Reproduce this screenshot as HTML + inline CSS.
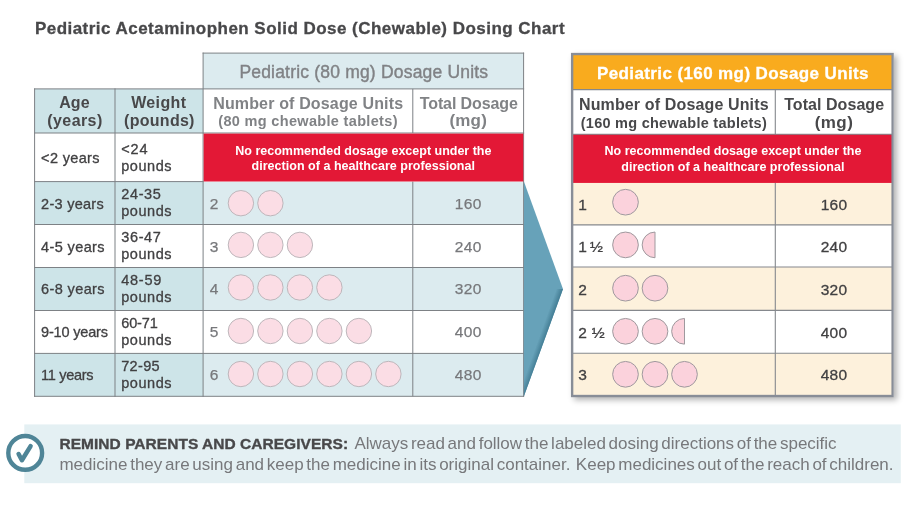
<!DOCTYPE html>
<html>
<head>
<meta charset="utf-8">
<title>Pediatric Acetaminophen Solid Dose (Chewable) Dosing Chart</title>
<style>
html,body{margin:0;padding:0;background:#fff;}
body{width:921px;height:512px;position:relative;overflow:hidden;font-family:"Liberation Sans",sans-serif;color:#4d4d4f;}
.a{position:absolute;}
.t{position:absolute;white-space:nowrap;line-height:1;}
.b{font-weight:bold;}
svg{position:absolute;left:0;top:0;}
</style>
</head>
<body>

<!-- left table, arrow, note box -->
<svg width="921" height="512" viewBox="0 0 921 512">
<rect x="24.3" y="424.4" width="876.5" height="58.8" fill="#e4f0f3"/>
<rect x="203.1" y="53.1" width="320.5" height="35.8" fill="#dcebef"/>
<rect x="34.6" y="88.9" width="168.5" height="44.1" fill="#cde4e8"/>
<rect x="34.6" y="181.6" width="168.5" height="42.9" fill="#cde4e8"/>
<rect x="203.1" y="181.6" width="320.5" height="42.9" fill="#dcebef"/>
<rect x="34.6" y="267.5" width="168.5" height="43.0" fill="#cde4e8"/>
<rect x="203.1" y="267.5" width="320.5" height="43.0" fill="#dcebef"/>
<rect x="34.6" y="353.4" width="168.5" height="42.9" fill="#cde4e8"/>
<rect x="203.1" y="353.4" width="320.5" height="42.9" fill="#dcebef"/>
<line x1="202.6" y1="53.1" x2="524.1" y2="53.1" stroke="#7d8185" stroke-width="1.0"/>
<line x1="34.1" y1="88.9" x2="524.1" y2="88.9" stroke="#7d8185" stroke-width="1.0"/>
<line x1="34.1" y1="133.0" x2="524.1" y2="133.0" stroke="#7d8185" stroke-width="1.0"/>
<line x1="34.1" y1="224.5" x2="524.1" y2="224.5" stroke="#7d8185" stroke-width="1.0"/>
<line x1="34.1" y1="267.5" x2="524.1" y2="267.5" stroke="#7d8185" stroke-width="1.0"/>
<line x1="34.1" y1="310.5" x2="524.1" y2="310.5" stroke="#7d8185" stroke-width="1.0"/>
<line x1="34.1" y1="353.4" x2="524.1" y2="353.4" stroke="#7d8185" stroke-width="1.0"/>
<line x1="34.1" y1="396.3" x2="524.1" y2="396.3" stroke="#7d8185" stroke-width="1.0"/>
<line x1="34.1" y1="181.6" x2="203.6" y2="181.6" stroke="#7d8185" stroke-width="1.0"/>
<line x1="34.6" y1="88.4" x2="34.6" y2="396.8" stroke="#7d8185" stroke-width="1.0"/>
<line x1="115.0" y1="88.4" x2="115.0" y2="396.8" stroke="#7d8185" stroke-width="1.0"/>
<line x1="203.1" y1="52.6" x2="203.1" y2="396.8" stroke="#7d8185" stroke-width="1.0"/>
<line x1="523.6" y1="52.6" x2="523.6" y2="396.8" stroke="#7d8185" stroke-width="1.0"/>
<line x1="412.8" y1="88.9" x2="412.8" y2="133.0" stroke="#7d8185" stroke-width="1.0"/>
<line x1="412.8" y1="181.6" x2="412.8" y2="396.3" stroke="#7d8185" stroke-width="1.0"/>
<rect x="203.65" y="133.6" width="319.65" height="47.9" fill="#e31836"/>
<defs><linearGradient id="ag" gradientUnits="userSpaceOnUse" x1="537.9" y1="340.6" x2="543.5" y2="342.6"><stop offset="0" stop-color="#67a2b9"/><stop offset="1" stop-color="#447e95"/></linearGradient></defs>
<polygon points="523.9,181.6 563,289 523.9,396.3" fill="#67a2b9"/>
<polygon points="523.9,289 563,289 523.9,396.3" fill="url(#ag)"/>
<circle cx="240.90" cy="203.2" r="12.7" fill="#fbdde5" stroke="#b7b1b5" stroke-width="0.9"/>
<circle cx="270.40" cy="203.2" r="12.7" fill="#fbdde5" stroke="#b7b1b5" stroke-width="0.9"/>
<circle cx="240.90" cy="244.9" r="12.7" fill="#fbdde5" stroke="#b7b1b5" stroke-width="0.9"/>
<circle cx="270.40" cy="244.9" r="12.7" fill="#fbdde5" stroke="#b7b1b5" stroke-width="0.9"/>
<circle cx="299.90" cy="244.9" r="12.7" fill="#fbdde5" stroke="#b7b1b5" stroke-width="0.9"/>
<circle cx="240.90" cy="287.5" r="12.7" fill="#fbdde5" stroke="#b7b1b5" stroke-width="0.9"/>
<circle cx="270.40" cy="287.5" r="12.7" fill="#fbdde5" stroke="#b7b1b5" stroke-width="0.9"/>
<circle cx="299.90" cy="287.5" r="12.7" fill="#fbdde5" stroke="#b7b1b5" stroke-width="0.9"/>
<circle cx="329.40" cy="287.5" r="12.7" fill="#fbdde5" stroke="#b7b1b5" stroke-width="0.9"/>
<circle cx="240.90" cy="331.0" r="12.7" fill="#fbdde5" stroke="#b7b1b5" stroke-width="0.9"/>
<circle cx="270.40" cy="331.0" r="12.7" fill="#fbdde5" stroke="#b7b1b5" stroke-width="0.9"/>
<circle cx="299.90" cy="331.0" r="12.7" fill="#fbdde5" stroke="#b7b1b5" stroke-width="0.9"/>
<circle cx="329.40" cy="331.0" r="12.7" fill="#fbdde5" stroke="#b7b1b5" stroke-width="0.9"/>
<circle cx="358.90" cy="331.0" r="12.7" fill="#fbdde5" stroke="#b7b1b5" stroke-width="0.9"/>
<circle cx="240.90" cy="374.0" r="12.7" fill="#fbdde5" stroke="#b7b1b5" stroke-width="0.9"/>
<circle cx="270.40" cy="374.0" r="12.7" fill="#fbdde5" stroke="#b7b1b5" stroke-width="0.9"/>
<circle cx="299.90" cy="374.0" r="12.7" fill="#fbdde5" stroke="#b7b1b5" stroke-width="0.9"/>
<circle cx="329.40" cy="374.0" r="12.7" fill="#fbdde5" stroke="#b7b1b5" stroke-width="0.9"/>
<circle cx="358.90" cy="374.0" r="12.7" fill="#fbdde5" stroke="#b7b1b5" stroke-width="0.9"/>
<circle cx="388.40" cy="374.0" r="12.7" fill="#fbdde5" stroke="#b7b1b5" stroke-width="0.9"/>
</svg>

<!-- right table frame with drop shadow -->
<div class="a" style="left:571px;top:53px;width:323px;height:344px;background:#fff;box-shadow:3px 3px 6px rgba(0,0,0,0.3);"></div>

<!-- right table contents + icon -->
<svg width="921" height="512" viewBox="0 0 921 512">
<rect x="573" y="55" width="319" height="34.6" fill="#f9ab1e"/>
<rect x="573" y="134.4" width="319" height="48.4" fill="#e31836"/>
<rect x="573" y="182.8" width="319" height="42.1" fill="#fdf1dc"/>
<rect x="573" y="267.0" width="319" height="43.4" fill="#fdf1dc"/>
<rect x="573" y="353.3" width="319" height="41.7" fill="#fdf1dc"/>
<line x1="573" y1="89.6" x2="892" y2="89.6" stroke="#85888d" stroke-width="1.1"/>
<line x1="573" y1="134.4" x2="892" y2="134.4" stroke="#85888d" stroke-width="1.1"/>
<line x1="573" y1="224.9" x2="892" y2="224.9" stroke="#85888d" stroke-width="1.1"/>
<line x1="573" y1="267.0" x2="892" y2="267.0" stroke="#85888d" stroke-width="1.1"/>
<line x1="573" y1="310.4" x2="892" y2="310.4" stroke="#85888d" stroke-width="1.1"/>
<line x1="573" y1="353.3" x2="892" y2="353.3" stroke="#85888d" stroke-width="1.1"/>
<line x1="775.3" y1="89.6" x2="775.3" y2="134.4" stroke="#85888d" stroke-width="1.1"/>
<line x1="775.3" y1="182.8" x2="775.3" y2="395" stroke="#85888d" stroke-width="1.1"/>
<rect x="573" y="134.8" width="319" height="48.0" fill="#e31836"/>
<circle cx="625.50" cy="202.2" r="12.85" fill="#fbd2dc" stroke="#9f999e" stroke-width="1"/>
<circle cx="625.50" cy="244.9" r="12.85" fill="#fbd2dc" stroke="#9f999e" stroke-width="1"/>
<path d="M655.00,232.05 A12.85,12.85 0 0 0 655.00,257.75 Z" fill="#fbd2dc" stroke="#9f999e" stroke-width="1"/>
<circle cx="625.50" cy="288.2" r="12.85" fill="#fbd2dc" stroke="#9f999e" stroke-width="1"/>
<circle cx="655.00" cy="288.2" r="12.85" fill="#fbd2dc" stroke="#9f999e" stroke-width="1"/>
<circle cx="625.50" cy="331.3" r="12.85" fill="#fbd2dc" stroke="#9f999e" stroke-width="1"/>
<circle cx="655.00" cy="331.3" r="12.85" fill="#fbd2dc" stroke="#9f999e" stroke-width="1"/>
<path d="M684.50,318.45 A12.85,12.85 0 0 0 684.50,344.15 Z" fill="#fbd2dc" stroke="#9f999e" stroke-width="1"/>
<circle cx="625.50" cy="374.3" r="12.85" fill="#fbd2dc" stroke="#9f999e" stroke-width="1"/>
<circle cx="655.00" cy="374.3" r="12.85" fill="#fbd2dc" stroke="#9f999e" stroke-width="1"/>
<circle cx="684.50" cy="374.3" r="12.85" fill="#fbd2dc" stroke="#9f999e" stroke-width="1"/>
<circle cx="25.2" cy="452.9" r="16.9" fill="#fff" stroke="#4f8597" stroke-width="4.4"/>
<path d="M18.6,454.0 L21.9,460.2 L30.6,446.1" fill="none" stroke="#4f8597" stroke-width="4.5" stroke-linecap="round" stroke-linejoin="round"/>
<rect x="572.15" y="54.05" width="320.45" height="341.95" fill="none" stroke="#888d97" stroke-width="2.35"/>
</svg>

<!-- TEXT START -->
<div class="a" style="left:0;top:0;width:921px;height:512px;will-change:transform;">
<div class="t b" style="left:34.91px;top:20px;font-size:17px;color:#48484a;letter-spacing:0.471px;-webkit-text-stroke:0.3px #48484a;">Pediatric Acetaminophen Solid Dose (Chewable) Dosing Chart</div>
<div class="t" style="left:239.39px;top:64px;font-size:17.5px;color:#808285;letter-spacing:0.192px;-webkit-text-stroke:0.4px #808285;">Pediatric (80 mg) Dosage Units</div>
<div class="t b" style="left:59.24px;top:95px;font-size:16px;color:#48484a;letter-spacing:0.043px;">Age</div>
<div class="t b" style="left:47.34px;top:113px;font-size:16px;color:#48484a;letter-spacing:0.406px;">(years)</div>
<div class="t b" style="left:131.14px;top:95px;font-size:16px;color:#48484a;letter-spacing:0.378px;">Weight</div>
<div class="t b" style="left:124.04px;top:113px;font-size:16px;color:#48484a;letter-spacing:0.285px;">(pounds)</div>
<div class="t b" style="left:213.19px;top:96px;font-size:16px;color:#808285;letter-spacing:0.152px;">Number of Dosage Units</div>
<div class="t b" style="left:218.24px;top:114px;font-size:14.5px;color:#808285;letter-spacing:0.331px;">(80 mg chewable tablets)</div>
<div class="t b" style="left:419.74px;top:96px;font-size:16px;color:#808285;letter-spacing:-0.106px;">Total Dosage</div>
<div class="t b" style="left:449.40px;top:112px;font-size:17px;color:#808285;letter-spacing:0.221px;">(mg)</div>
<div class="t b" style="left:235.31px;top:145px;font-size:12.5px;color:#fff;letter-spacing:-0.005px;">No recommended dosage except under the</div>
<div class="t b" style="left:251.56px;top:160px;font-size:12.5px;color:#fff;letter-spacing:0.030px;">direction of a healthcare professional</div>
<div class="t b" style="left:596.90px;top:65px;font-size:17px;color:#fff;letter-spacing:0.396px;-webkit-text-stroke:0.3px #fff;">Pediatric (160 mg) Dosage Units</div>
<div class="t b" style="left:578.94px;top:97px;font-size:16px;color:#48484a;letter-spacing:0.140px;">Number of Dosage Units</div>
<div class="t b" style="left:580.74px;top:116px;font-size:14.5px;color:#48484a;letter-spacing:0.263px;">(160 mg chewable tablets)</div>
<div class="t b" style="left:784.19px;top:97px;font-size:16px;color:#48484a;letter-spacing:0.054px;">Total Dosage</div>
<div class="t b" style="left:814.65px;top:114px;font-size:17px;color:#48484a;letter-spacing:0.454px;">(mg)</div>
<div class="t b" style="left:604.56px;top:145px;font-size:12.5px;color:#fff;letter-spacing:0.015px;">No recommended dosage except under the</div>
<div class="t b" style="left:621.31px;top:161px;font-size:12.5px;color:#fff;letter-spacing:0.023px;">direction of a healthcare professional</div>
<div class="t b" style="left:59.46px;top:436px;font-size:15.5px;color:#48484a;letter-spacing:0.033px;-webkit-text-stroke:0.35px #48484a;">REMIND PARENTS AND CAREGIVERS:</div>
<div class="t" style="left:354.40px;top:435px;font-size:17px;color:#77787b;letter-spacing:-0.008px;word-spacing:-2px;">Always read and follow the labeled dosing directions of the specific</div>
<div class="t" style="left:59.41px;top:456px;font-size:17px;color:#77787b;word-spacing:-2px;">medicine they are using and keep the medicine in its original container.&nbsp; Keep medicines out of the reach of children.</div>
<div class="t" style="left:41.09px;top:151px;font-size:14.5px;color:#414042;letter-spacing:0.341px;-webkit-text-stroke:0.3px #414042;">&lt;2 years</div>
<div class="t" style="left:121.19px;top:142px;font-size:14.5px;color:#414042;letter-spacing:0.853px;-webkit-text-stroke:0.3px #414042;">&lt;24</div>
<div class="t" style="left:121.19px;top:159px;font-size:14.5px;color:#414042;letter-spacing:0.547px;-webkit-text-stroke:0.3px #414042;">pounds</div>
<div class="t" style="left:41.09px;top:197px;font-size:14.5px;color:#414042;letter-spacing:0.270px;-webkit-text-stroke:0.3px #414042;">2-3 years</div>
<div class="t" style="left:121.19px;top:187px;font-size:14.5px;color:#414042;letter-spacing:0.655px;-webkit-text-stroke:0.3px #414042;">24-35</div>
<div class="t" style="left:121.19px;top:204px;font-size:14.5px;color:#414042;letter-spacing:0.547px;-webkit-text-stroke:0.3px #414042;">pounds</div>
<div class="t" style="left:41.09px;top:240px;font-size:14.5px;color:#414042;letter-spacing:0.383px;-webkit-text-stroke:0.3px #414042;">4-5 years</div>
<div class="t" style="left:121.19px;top:230px;font-size:14.5px;color:#414042;letter-spacing:0.655px;-webkit-text-stroke:0.3px #414042;">36-47</div>
<div class="t" style="left:121.19px;top:247px;font-size:14.5px;color:#414042;letter-spacing:0.547px;-webkit-text-stroke:0.3px #414042;">pounds</div>
<div class="t" style="left:41.09px;top:282px;font-size:14.5px;color:#414042;letter-spacing:0.383px;-webkit-text-stroke:0.3px #414042;">6-8 years</div>
<div class="t" style="left:121.19px;top:273px;font-size:14.5px;color:#414042;letter-spacing:0.755px;-webkit-text-stroke:0.3px #414042;">48-59</div>
<div class="t" style="left:121.19px;top:290px;font-size:14.5px;color:#414042;letter-spacing:0.547px;-webkit-text-stroke:0.3px #414042;">pounds</div>
<div class="t" style="left:41.09px;top:325px;font-size:14.5px;color:#414042;letter-spacing:-0.178px;-webkit-text-stroke:0.3px #414042;">9-10 years</div>
<div class="t" style="left:121.19px;top:316px;font-size:14.5px;color:#414042;letter-spacing:-0.120px;-webkit-text-stroke:0.3px #414042;">60-71</div>
<div class="t" style="left:121.19px;top:333px;font-size:14.5px;color:#414042;letter-spacing:0.547px;-webkit-text-stroke:0.3px #414042;">pounds</div>
<div class="t" style="left:41.09px;top:368px;font-size:14.5px;color:#414042;letter-spacing:-0.305px;-webkit-text-stroke:0.3px #414042;">11 years</div>
<div class="t" style="left:121.19px;top:359px;font-size:14.5px;color:#414042;letter-spacing:0.330px;-webkit-text-stroke:0.3px #414042;">72-95</div>
<div class="t" style="left:121.19px;top:376px;font-size:14.5px;color:#414042;letter-spacing:0.547px;-webkit-text-stroke:0.3px #414042;">pounds</div>
<div class="t" style="left:209.66px;top:196px;font-size:15.5px;color:#77787b;-webkit-text-stroke:0.25px #77787b;">2</div>
<div class="t" style="left:454.76px;top:196px;font-size:15.5px;color:#77787b;letter-spacing:0.355px;-webkit-text-stroke:0.25px #77787b;">160</div>
<div class="t" style="left:209.66px;top:239px;font-size:15.5px;color:#77787b;-webkit-text-stroke:0.25px #77787b;">3</div>
<div class="t" style="left:454.76px;top:239px;font-size:15.5px;color:#77787b;letter-spacing:0.355px;-webkit-text-stroke:0.25px #77787b;">240</div>
<div class="t" style="left:209.66px;top:281px;font-size:15.5px;color:#77787b;-webkit-text-stroke:0.25px #77787b;">4</div>
<div class="t" style="left:454.76px;top:281px;font-size:15.5px;color:#77787b;letter-spacing:0.355px;-webkit-text-stroke:0.25px #77787b;">320</div>
<div class="t" style="left:209.66px;top:324px;font-size:15.5px;color:#77787b;-webkit-text-stroke:0.25px #77787b;">5</div>
<div class="t" style="left:454.76px;top:324px;font-size:15.5px;color:#77787b;letter-spacing:0.355px;-webkit-text-stroke:0.25px #77787b;">400</div>
<div class="t" style="left:209.66px;top:367px;font-size:15.5px;color:#77787b;-webkit-text-stroke:0.25px #77787b;">6</div>
<div class="t" style="left:454.76px;top:367px;font-size:15.5px;color:#77787b;letter-spacing:0.355px;-webkit-text-stroke:0.25px #77787b;">480</div>
<div class="t" style="left:578.36px;top:197px;font-size:15.5px;color:#414042;-webkit-text-stroke:0.3px #414042;">1</div>
<div class="t" style="left:820.76px;top:197px;font-size:15.5px;color:#414042;letter-spacing:0.205px;-webkit-text-stroke:0.3px #414042;">160</div>
<div class="t" style="left:578.36px;top:239px;font-size:15.5px;color:#414042;-webkit-text-stroke:0.3px #414042;">1</div>
<div class="t" style="left:820.76px;top:239px;font-size:15.5px;color:#414042;letter-spacing:0.205px;-webkit-text-stroke:0.3px #414042;">240</div>
<div class="t" style="left:590.06px;top:239px;font-size:15.5px;color:#414042;-webkit-text-stroke:0.3px #414042;">½</div>
<div class="t" style="left:578.36px;top:282px;font-size:15.5px;color:#414042;-webkit-text-stroke:0.3px #414042;">2</div>
<div class="t" style="left:820.76px;top:282px;font-size:15.5px;color:#414042;letter-spacing:0.205px;-webkit-text-stroke:0.3px #414042;">320</div>
<div class="t" style="left:578.36px;top:325px;font-size:15.5px;color:#414042;-webkit-text-stroke:0.3px #414042;">2</div>
<div class="t" style="left:820.76px;top:325px;font-size:15.5px;color:#414042;letter-spacing:0.205px;-webkit-text-stroke:0.3px #414042;">400</div>
<div class="t" style="left:591.86px;top:325px;font-size:15.5px;color:#414042;-webkit-text-stroke:0.3px #414042;">½</div>
<div class="t" style="left:578.36px;top:367px;font-size:15.5px;color:#414042;-webkit-text-stroke:0.3px #414042;">3</div>
<div class="t" style="left:820.76px;top:367px;font-size:15.5px;color:#414042;letter-spacing:0.205px;-webkit-text-stroke:0.3px #414042;">480</div>
</div>
<!-- TEXT END -->

</body>
</html>
